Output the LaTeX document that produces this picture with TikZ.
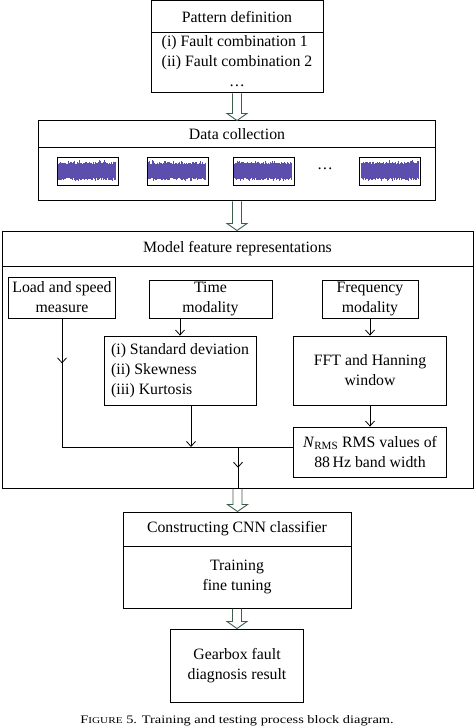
\documentclass[tikz,border=0pt]{standalone}
\usepackage{fontspec}
\setmainfont{Liberation Serif}
\usetikzlibrary{arrows.meta,calc,decorations.markings}
\definecolor{arrowgreen}{RGB}{60,95,75}
\definecolor{wavepurple}{RGB}{92,78,172}
\tikzset{
  every node/.style={font=\fontsize{15.8}{20}\selectfont},
  frame/.style={draw,line width=1pt,inner sep=0pt,align=center},
  block/.style={draw,line width=0.8pt,inner sep=0pt,align=center},
  wavebox/.style={draw,line width=0.8pt,minimum width=61pt,minimum height=28pt,inner sep=0pt},
  wave/.style={wavepurple,line width=0.9pt},
  barb/.tip={Straight Barb[length=5pt,width=9pt,line width=0.8pt]},
  link/.style={line width=0.8pt,-barb},
  wire/.style={line width=0.8pt},
  midarrow/.style={postaction={decorate},decoration={markings,mark=at position #1 with {\arrow{barb}}}},
  midarrow/.default=0.5,
  bigarrow/.style={arrowgreen,line width=0.9pt,line join=miter},
}
% hollow double arrow from the bottom of #1 to the top of #2
\newcommand{\flowarrow}[2]{%
  \path (#1 |- #2) coordinate (tip);
  \draw[bigarrow] ($(#1)+(-4.5,0)$) -- ($(tip)+(-4.5,-7)$) -- ($(tip)+(-10,-7)$) -- (tip)
    -- ($(tip)+(10,-7)$) -- ($(tip)+(4.5,-7)$) -- ($(#1)+(4.5,0)$);}
\begin{document}
\begin{tikzpicture}[x=1pt,y=-1pt]
  \useasboundingbox (0,0) rectangle (474,727);
  % Pattern definition
  \node[frame,minimum width=172pt,minimum height=32pt] (Ph) at (237,17) {Pattern definition};
  \node[frame,minimum width=172pt,minimum height=60pt] (Pb) at (237,63)
    {\begin{tabular}{@{}l@{}}(i) Fault combination 1\\(ii) Fault combination 2\\\multicolumn{1}{@{}c@{}}{\dots}\end{tabular}};
  % Data collection
  \node[frame,minimum width=397pt,minimum height=27pt] (Dh) at (237,134.5) {Data collection};
  \node[frame,minimum width=397pt,minimum height=53pt] (Db) at (237,174.5) {};
  \node[wavebox] (W1) at (87.5,171) {};
  \node[wavebox] (W2) at (177.5,171) {};
  \node[wavebox] (W3) at (263.5,171) {};
  \node (Ddots) at (325,169) {\dots};
  \node[wavebox] (W4) at (390,171) {};
  \pgfmathsetseed{42}
  \foreach \w in {W1,W2,W3,W4}{
    \foreach \i in {2,...,59}{
      \pgfmathsetmacro{\up}{7+2*rnd+2.5*rnd^6}
      \pgfmathsetmacro{\dn}{7+2*rnd+2.5*rnd^6}
      \draw[wave] ($(\w.west)+(\i,-\up)$) -- ($(\w.west)+(\i,\dn)$);
    }
  }
  % Model feature representations
  \node[frame,minimum width=471pt,minimum height=35pt] (Mh) at (237.5,248.5) {Model feature representations};
  \node[frame,minimum width=471pt,minimum height=222pt] (Mb) at (237.5,377) {};
  \node[block,minimum width=107pt,minimum height=41pt] (Load) at (62,297.5) {Load and speed\\measure};
  \node[block,minimum width=123pt,minimum height=38pt] (Time) at (210.5,299) {Time\\modality};
  \node[block,minimum width=96pt,minimum height=38pt] (Freq) at (370,299) {Frequency\\modality};
  \node[block,minimum width=152pt,minimum height=69pt,align=left] (Std) at (180,370.5)
    {(i) Standard deviation\\(ii) Skewness\\(iii) Kurtosis};
  \node[block,minimum width=153pt,minimum height=69pt] (FFT) at (370,370.5) {FFT and Hanning\\window};
  \node[block,minimum width=153pt,minimum height=50pt] (NRMS) at (370,452)
    {\textit{N}\textsubscript{RMS} RMS values of\\88\,Hz band width};
  \coordinate (bus) at (238,447);
  % Arrows inside the feature block
  \draw[link] (Std.north |- Time.south) -- (Std.north);
  \draw[link] (Freq.south) -- (FFT.north);
  \draw[link] (FFT.south) -- (NRMS.north);
  \draw[wire,midarrow=0.35] (Load.south) -- (Load.south |- bus);
  \draw[wire] (Load.south |- bus) -- (NRMS.west |- bus);
  \draw[link] ([xshift=11pt]Std.south) -- ([xshift=11pt]Std.south |- bus);
  \draw[wire,midarrow] (bus) -- (bus |- Mb.south);
  % CNN classifier and result
  \node[frame,minimum width=228pt,minimum height=34pt] (Ch) at (237,529) {Constructing CNN classifier};
  \node[frame,minimum width=228pt,minimum height=62pt] (Cb) at (237,577) {Training\\fine tuning};
  \node[frame,minimum width=133pt,minimum height=73pt] (Res) at (237,665.5) {Gearbox fault\\diagnosis result};
  % Hollow arrows between stages
  \flowarrow{Pb.south}{Dh.north}
  \flowarrow{Db.south}{Mh.north}
  \flowarrow{Mb.south}{Ch.north}
  \flowarrow{Cb.south}{Res.north}
  % Caption
  \node[anchor=base] (Cap) at (237,723.5)
    {\scalebox{1.25}[1]{\fontsize{11.5}{13}\selectfont F{\fontsize{9}{11}\selectfont IGURE} 5. Training and testing process block diagram.}};
\end{tikzpicture}
\end{document}
